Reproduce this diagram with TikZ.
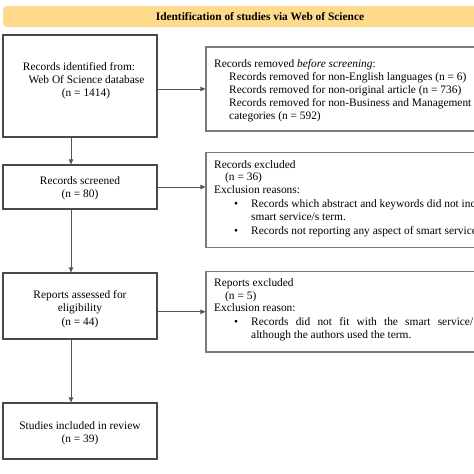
\documentclass[tikz,border=0pt]{standalone}
\usepackage{fontspec}
\setmainfont{Liberation Serif}
\usetikzlibrary{arrows.meta}
\definecolor{banner}{HTML}{FFD98C}
\definecolor{lborder}{HTML}{4A4A4A}
\definecolor{rborder}{HTML}{7A7A7A}
\definecolor{arrowc}{HTML}{555555}
\begin{document}
\begin{tikzpicture}[x=1pt,y=-1pt,
  lbox/.style={draw=lborder, line width=1.3pt, fill=white, inner sep=0pt},
  rbox/.style={draw=rborder, line width=1.2pt, inner sep=0pt},
  txt/.style={inner sep=0pt, anchor=base, font=\fontsize{11.4pt}{13pt}\selectfont},
  ltxt/.style={txt, anchor=base west},
  arr/.style={draw=arrowc, line width=0.8pt, -{Triangle[length=5pt,width=4.5pt]}}]
\useasboundingbox (0,0) rectangle (474,474);
\clip (0,0) rectangle (474,474);
\fill[white] (0,0) rectangle (474,474);
% banner
\node[fill=banner, rounded corners=4pt, minimum width=517pt, minimum height=21pt, inner sep=0pt] (ban) at (261.5,16.5) {};
\node[txt, font=\fontsize{11.4pt}{13pt}\selectfont\bfseries] (title) at (260,20.5) {Identification of studies via Web of Science};
% left boxes
\node[lbox, minimum width=154pt, minimum height=102pt] (b1) at (80,86) {};
\node[lbox, minimum width=154pt, minimum height=44pt] (b2) at (80,187) {};
\node[lbox, minimum width=154pt, minimum height=66pt] (b3) at (80,306) {};
\node[lbox, minimum width=154pt, minimum height=56pt] (b4) at (80,431) {};
% right boxes
\node[rbox, minimum width=314pt, minimum height=84pt] (r1) at (363,89) {};
\node[rbox, minimum width=314pt, minimum height=95pt] (r2) at (363,200) {};
\node[rbox, minimum width=314pt, minimum height=80.5pt] (r3) at (363,311.75) {};
% left texts
\node[txt] (b1a) at (79,70.5) {Records identified from:};
\node[txt] (b1b) at (86.5,83.5) {Web Of Science database};
\node[txt] (b1c) at (86,96.5) {(n = 1414)};
\node[txt] (b2a) at (80,184.5) {Records screened};
\node[txt] (b2b) at (80,197.5) {(n = 80)};
\node[txt] (b3a) at (80,298) {Reports assessed for};
\node[txt] (b3b) at (80,311.5) {eligibility};
\node[txt] (b3c) at (80,325) {(n = 44)};
\node[txt] (b4a) at (80,429.5) {Studies included in review};
\node[txt] (b4b) at (80,442) {(n = 39)};
% right texts 1
\node[ltxt] (r1a) at (214,67.5) {Records removed \textit{before screening}:};
\node[ltxt] (r1b) at (229,80.5) {Records removed for non-English languages (n = 6)};
\node[ltxt] (r1c) at (229,93.5) {Records removed for non-original article (n = 736)};
\node[ltxt] (r1d) at (229,106.5) {Records removed for non-Business and Management};
\node[ltxt] (r1e) at (229,119.5) {categories (n = 592)};
% right texts 2
\node[ltxt] (r2a) at (214,168.5) {Records excluded};
\node[ltxt] (r2b) at (225,180.5) {(n = 36)};
\node[ltxt] (r2c) at (214,193.5) {Exclusion reasons:};
\node[ltxt] (r2d) at (234,207.5) {\textbullet};
\node[ltxt] (r2e) at (251,207.5) {Records which abstract and keywords did not include};
\node[ltxt] (r2f) at (251,220.5) {smart service/s term.};
\node[ltxt] (r2g) at (234,234) {\textbullet};
\node[ltxt] (r2h) at (251,234) {Records not reporting any aspect of smart services};
% right texts 3
\node[ltxt] (r3a) at (214,286.5) {Reports excluded};
\node[ltxt] (r3b) at (225,299.5) {(n = 5)};
\node[ltxt] (r3c) at (214,311.5) {Exclusion reason:};
\node[ltxt] (r3d) at (234,325.5) {\textbullet};
\node[ltxt] (r3e) at (251,325.5) {\makebox[222pt][s]{Records did not fit with the smart service/}};
\node[ltxt] (r3f) at (251,338.5) {although the authors used the term.};
% connectors
\draw[arr] ([xshift=-9pt]b1.south) -- ([xshift=-9pt]b2.north);
\draw[arr] ([xshift=-9pt]b2.south) -- ([xshift=-9pt]b3.north);
\draw[arr] ([xshift=-9pt]b3.south) -- ([xshift=-9pt]b4.north);
\draw[arr] (b1.east |- r1.west) -- (r1.west);
\draw[arr] (b2.east) -- (b2.east -| r2.west);
\draw[arr] (b3.east |- r3.west) -- (r3.west);
\end{tikzpicture}
\end{document}
